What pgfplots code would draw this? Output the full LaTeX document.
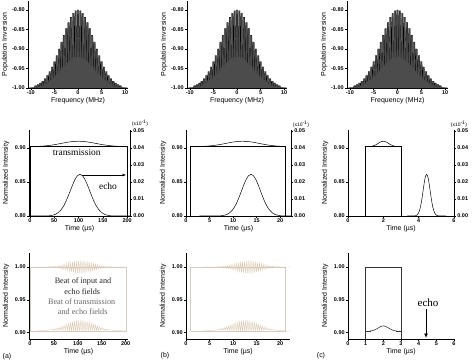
\documentclass[border=0pt]{standalone}
\usepackage{fontspec}
\setmainfont{Liberation Sans}
\newfontfamily\tnr{Liberation Serif}
\usepackage{pgfplots}
\usepackage{pgfplotstable}
\pgfplotsset{compat=1.18}
\usetikzlibrary{arrows.meta}

\definecolor{beat}{RGB}{216,196,170}
\definecolor{framec}{RGB}{210,204,195}
\newcommand\tickfont{\bfseries\fontsize{5.5}{6}\selectfont}
\newcommand\labfont{\fontsize{7}{8}\selectfont}

% spectral comb (population inversion vs frequency)
\pgfplotstableread{
f p
-10.6 -1.0
-9.25 -0.9985
-9.15 -0.9940
-8.85 -0.9940
-8.75 -0.9970
-8.65 -0.9912
-8.35 -0.9912
-8.25 -0.9957
-8.15 -0.9874
-7.85 -0.9874
-7.75 -0.9940
-7.65 -0.9824
-7.35 -0.9824
-7.25 -0.9917
-7.15 -0.9760
-6.85 -0.9760
-6.75 -0.9888
-6.65 -0.9678
-6.35 -0.9678
-6.25 -0.9851
-6.15 -0.9578
-5.85 -0.9578
-5.75 -0.9807
-5.65 -0.9459
-5.35 -0.9459
-5.25 -0.9756
-5.15 -0.9322
-4.85 -0.9322
-4.75 -0.9698
-4.65 -0.9167
-4.35 -0.9167
-4.25 -0.9633
-4.15 -0.8999
-3.85 -0.8999
-3.75 -0.9564
-3.65 -0.8823
-3.35 -0.8823
-3.25 -0.9494
-3.15 -0.8645
-2.85 -0.8645
-2.75 -0.9424
-2.65 -0.8474
-2.35 -0.8474
-2.25 -0.9358
-2.15 -0.8318
-1.85 -0.8318
-1.75 -0.9301
-1.65 -0.8185
-1.35 -0.8185
-1.25 -0.9254
-1.15 -0.8085
-0.85 -0.8085
-0.75 -0.9221
-0.65 -0.8021
-0.35 -0.8021
-0.25 -0.9204
-0.15 -0.8000
0.15 -0.8000
0.25 -0.9204
0.35 -0.8021
0.65 -0.8021
0.75 -0.9221
0.85 -0.8085
1.15 -0.8085
1.25 -0.9254
1.35 -0.8185
1.65 -0.8185
1.75 -0.9301
1.85 -0.8318
2.15 -0.8318
2.25 -0.9358
2.35 -0.8474
2.65 -0.8474
2.75 -0.9424
2.85 -0.8645
3.15 -0.8645
3.25 -0.9494
3.35 -0.8823
3.65 -0.8823
3.75 -0.9564
3.85 -0.8999
4.15 -0.8999
4.25 -0.9633
4.35 -0.9167
4.65 -0.9167
4.75 -0.9698
4.85 -0.9322
5.15 -0.9322
5.25 -0.9756
5.35 -0.9459
5.65 -0.9459
5.75 -0.9807
5.85 -0.9578
6.15 -0.9578
6.25 -0.9851
6.35 -0.9678
6.65 -0.9678
6.75 -0.9888
6.85 -0.9760
7.15 -0.9760
7.25 -0.9917
7.35 -0.9824
7.65 -0.9824
7.75 -0.9940
7.85 -0.9874
8.15 -0.9874
8.25 -0.9957
8.35 -0.9912
8.65 -0.9912
8.75 -0.9970
8.85 -0.9940
9.15 -0.9940
9.25 -0.9985
10.6 -1.0
}\comb

% transmission (offset u from bump centre)
\pgfplotstableread{
u y
-90 0.90229
-80 0.90259
-70 0.90308
-60 0.90384
-50 0.90488
-40 0.90616
-30 0.90754
-20 0.90879
-10 0.90968
0 0.91000
10 0.90968
20 0.90879
30 0.90754
40 0.90616
50 0.90488
60 0.90384
70 0.90308
80 0.90259
90 0.90229
}\trans

% echo (offset v from echo centre)
\pgfplotstableread{
v e
-110 0
-70 0.00005
-60 0.00027
-55 0.00056
-50 0.00108
-45 0.00195
-40 0.00332
-35 0.00530
-30 0.00795
-25 0.01122
-20 0.01486
-15 0.01849
-10 0.02162
-5 0.02375
0 0.02450
5 0.02375
10 0.02162
15 0.01849
20 0.01486
25 0.01122
30 0.00795
35 0.00530
40 0.00332
45 0.00195
50 0.00108
55 0.00056
60 0.00027
70 0.00005
110 0
}\echo

% beats (offset u from beat centre)
\pgfplotstableread{
u top bot
-95 1.00000 0.90220
-80 1.00000 0.90259
-70 1.00000 0.90308
-60 1.00056 0.90434
-58 0.99932 0.90342
-56 1.00081 0.90495
-54 0.99903 0.90356
-52 1.00115 0.90569
-50 0.99865 0.90366
-48 1.00158 0.90654
-46 0.99816 0.90371
-44 1.00213 0.90755
-42 0.99756 0.90369
-40 1.00278 0.90866
-38 0.99685 0.90360
-36 1.00355 0.90991
-34 0.99603 0.90342
-32 1.00441 0.91124
-30 0.99513 0.90316
-28 1.00534 0.91262
-26 0.99418 0.90283
-24 1.00631 0.91400
-22 0.99321 0.90246
-20 1.00726 0.91532
-18 0.99228 0.90206
-16 1.00815 0.91655
-14 0.99145 0.90168
-12 1.00891 0.91756
-10 0.99077 0.90137
-8 1.00950 0.91834
-6 0.99028 0.90113
-4 1.00987 0.91883
-2 0.99003 0.90102
0 1.01000 0.91900
2 0.99003 0.90102
4 1.00987 0.91883
6 0.99028 0.90113
8 1.00950 0.91834
10 0.99077 0.90137
12 1.00891 0.91756
14 0.99145 0.90168
16 1.00815 0.91655
18 0.99228 0.90206
20 1.00726 0.91532
22 0.99321 0.90246
24 1.00631 0.91400
26 0.99418 0.90283
28 1.00534 0.91262
30 0.99513 0.90316
32 1.00441 0.91124
34 0.99603 0.90342
36 1.00355 0.90991
38 0.99685 0.90360
40 1.00278 0.90866
42 0.99756 0.90369
44 1.00213 0.90755
46 0.99816 0.90371
48 1.00158 0.90654
50 0.99865 0.90366
52 1.00115 0.90569
54 0.99903 0.90356
56 1.00081 0.90495
58 0.99932 0.90342
60 1.00056 0.90434
70 1.00000 0.90308
80 1.00000 0.90259
95 1.00000 0.90220
}\beat

\pgfplotsset{
  panel/.style={scale only axis, anchor=north west,
    axis line style={line width=0.55pt},
    tick style={line width=0.45pt, black},
    tick align=outside, major tick length=2bp,
    tick label style={font=\tickfont},
    label style={font=\labfont},
    scaled ticks=false,
    xticklabel style={inner sep=0.8bp},
    yticklabel style={inner sep=1.2bp, /pgf/number format/fixed, /pgf/number format/fixed zerofill, /pgf/number format/precision=2},
    /pgf/number format/assume math mode=true,
    axis x line*=bottom, axis y line*=left,
    xlabel style={at={([yshift=-12.5bp]axis description cs:0.5,0)}, anchor=center},
    ylabel style={at={([xshift=-23bp]axis description cs:0,0.5)}, anchor=center},
  },
  top/.style={panel, width=100bp, height=87bp,
    xmin=-10.6, xmax=10.6, ymin=-1.0, ymax=-0.777,
    xtick={-10,-5,0,5,10}, ytick={-1.00,-0.95,-0.90,-0.85,-0.80},
    xlabel={Frequency (MHz)}, ylabel={Population Inversion}},
  mid/.style={panel, height=86bp, ymin=0.80, ymax=0.9265,
    ytick={0.80,0.85,0.90}, xlabel={Time (µs)}, ylabel={Normalized Intensity}},
  midr/.style={scale only axis, anchor=north west, height=86bp,
    axis line style={line width=0.55pt},
    tick style={line width=0.45pt, black},
    tick align=outside, major tick length=2bp,
    tick label style={font=\tickfont},
    scaled ticks=false,
    yticklabel style={inner sep=1.2bp, /pgf/number format/fixed, /pgf/number format/fixed zerofill, /pgf/number format/precision=2},
    /pgf/number format/assume math mode=true,
    axis y line*=right, axis x line=none,
    ymin=0, ymax=0.0506, ytick={0,0.01,0.02,0.03,0.04,0.05}},
  bot/.style={panel, height=86bp, ymin=0.890, ymax=1.0214,
    ytick={0.90,0.95,1.00}, xlabel={Time (µs)}, ylabel={Normalized Intensity}},
  ln/.style={black, line width=0.5pt},
  comb/.style={fill=black!70, draw=black, line width=0.25pt},
}

\begin{document}
\begin{tikzpicture}
\useasboundingbox (0,0) rectangle (474bp,-364bp);

% ---------------- top row ----------------
\begin{axis}[top, at={(28bp,-1bp)}]
\addplot[comb] table[x=f,y=p] {\comb};
\end{axis}
\begin{axis}[top, at={(187bp,-1bp)}]
\addplot[comb] table[x=f,y=p] {\comb};
\end{axis}
\begin{axis}[top, at={(347bp,-1bp)}, width=101bp]
\addplot[comb] table[x=f,y=p] {\comb};
\end{axis}

% ---------------- middle row ----------------
\begin{axis}[mid, at={(29bp,-130bp)}, width=101bp, xmin=-2, xmax=206, xtick={0,50,100,150,200}]
\addplot[ln] coordinates {(1,0.80) (1,0.9020) (201,0.9020) (201,0.80)};
\addplot[ln, smooth] table[x expr=\thisrow{u}+100, y=y] {\trans};
\end{axis}
\begin{axis}[midr, at={(29bp,-130bp)}, width=101bp, xmin=-2, xmax=206]
\addplot[ln, smooth] table[x expr=\thisrow{v}+103, y=e] {\echo};
\end{axis}

\begin{axis}[mid, at={(186bp,-130bp)}, width=105bp, xmin=0, xmax=22.3, xtick={0,5,10,15,20}]
\addplot[ln] coordinates {(1,0.80) (1,0.9020) (21,0.9020) (21,0.80)};
\addplot[ln, smooth] table[x expr=\thisrow{u}/10+12, y=y] {\trans};
\end{axis}
\begin{axis}[midr, at={(186bp,-130bp)}, width=105bp, xmin=0, xmax=22.3]
\addplot[ln, smooth] table[x expr=\thisrow{v}/10+13.8, y=e] {\echo};
\end{axis}

\begin{axis}[mid, at={(348bp,-130bp)}, width=106bp, xmin=0, xmax=6, xtick={0,2,4,6}]
\addplot[ln] coordinates {(1,0.80) (1,0.9020) (3,0.9020) (3,0.80)};
\addplot[ln, smooth] table[x expr=\thisrow{u}/120+2, y=y] {\trans};
\end{axis}
\begin{axis}[midr, at={(348bp,-130bp)}, width=106bp, xmin=0, xmax=6]
\addplot[ln, smooth] table[x expr=\thisrow{v}/100+4.45, y=e] {\echo};
\end{axis}

% ---------------- bottom row ----------------
\begin{axis}[bot, at={(29bp,-253bp)}, width=99bp, xmin=-2, xmax=205, xtick={0,50,100,150,200}]
\addplot[framec, line width=0.5pt] coordinates {(0,0.902) (0,1.0) (201,1.0) (201,0.902) (0,0.902)};
\addplot[beat, line width=0.3pt] table[x expr=\thisrow{u}+105, y=top] {\beat};
\addplot[beat, line width=0.3pt] table[x expr=\thisrow{u}+105, y=bot] {\beat};
\end{axis}

\begin{axis}[bot, at={(186bp,-253bp)}, width=104bp, xmin=0, xmax=22.1, xtick={0,5,10,15,20}]
\addplot[framec, line width=0.5pt] coordinates {(1,0.902) (1,1.0) (21,1.0) (21,0.902) (1,0.902)};
\addplot[beat, line width=0.3pt] table[x expr=\thisrow{u}/10+13.2, y=top] {\beat};
\addplot[beat, line width=0.3pt] table[x expr=\thisrow{u}/10+12.6, y=bot] {\beat};
\end{axis}

\begin{axis}[bot, at={(348bp,-253bp)}, width=106bp, xmin=0, xmax=6, xtick={0,1,2,3,4,5,6}]
\addplot[black!80, line width=0.55pt] coordinates {(1,0.890) (1,1.0) (3,1.0) (3,0.890)};
\addplot[black!80, line width=0.6pt] coordinates {(1,0.902) (1.3,0.902)};
\addplot[black!80, line width=0.6pt] coordinates {(2.7,0.902) (3,0.902)};
\addplot[black!80, line width=0.6pt, smooth] table[x expr=\thisrow{u}/120+2, y=y] {\trans};
\end{axis}

% ---------------- annotations ----------------
\node[font=\fontsize{5}{6}\selectfont] at (140bp,-123.5bp) {(x10\textsuperscript{-1})};
\node[font=\fontsize{5}{6}\selectfont] at (301bp,-124.5bp) {(x10\textsuperscript{-1})};
\node[font=\fontsize{5}{6}\selectfont] at (459bp,-124.5bp) {(x10\textsuperscript{-1})};

\node[font=\tnr\fontsize{9.5}{10}\selectfont] at (76.7bp,-152bp) {transmission};
\node[font=\tnr\fontsize{9.5}{10}\selectfont] at (108bp,-186bp) {echo};
\draw[line width=0.6pt, -{Latex[length=3.5bp,width=3bp]}] (82bp,-175bp) -- (126bp,-175bp);

\node[font=\tnr\fontsize{8.2}{9}\selectfont, text=black!85] at (83bp,-281.7bp) {Beat of input and};
\node[font=\tnr\fontsize{8.2}{9}\selectfont, text=black!85] at (82.3bp,-291.2bp) {echo fields};
\node[font=\tnr\fontsize{8.2}{9}\selectfont, text=black!60] at (81.7bp,-301.7bp) {Beat of transmission};
\node[font=\tnr\fontsize{8.2}{9}\selectfont, text=black!60] at (82.7bp,-311.7bp) {and echo fields};

\node[font=\tnr\fontsize{11}{12}\selectfont] at (428bp,-303bp) {echo};
\draw[line width=0.8pt, -{Latex[length=4.5bp,width=4bp]}] (426bp,-309bp) -- (426bp,-338bp);

\node[font=\fontsize{7}{8}\selectfont] at (7bp,-357bp) {(a)};
\node[font=\fontsize{7}{8}\selectfont] at (165bp,-356bp) {(b)};
\node[font=\fontsize{7}{8}\selectfont] at (321bp,-356bp) {(c)};
\end{tikzpicture}
\end{document}
